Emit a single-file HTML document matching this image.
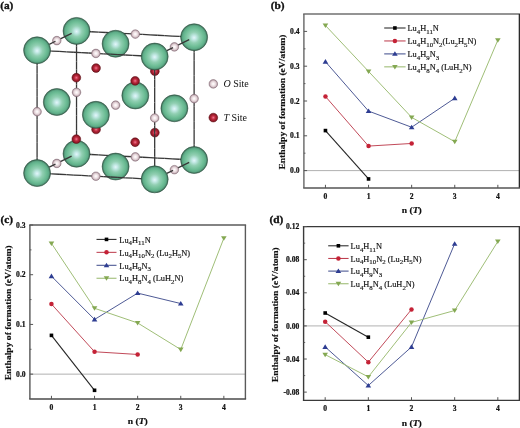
<!DOCTYPE html>
<html><head><meta charset="utf-8"><title>Lu-H-N structures</title>
<style>
html,body{margin:0;padding:0;background:#fff;}
body{width:520px;height:428px;overflow:hidden;}
svg{display:block;filter:blur(0.25px);}
</style></head><body>
<svg width="520" height="428" viewBox="0 0 520 428">
<rect width="520" height="428" fill="#fff"/>
<text x="0.2" y="9.4" font-size="11.3" font-weight="bold" stroke="#111" stroke-width="0.35" font-family="'Liberation Serif', 'Times New Roman', serif" fill="#111">(a)</text>
<g id="crystal">
<defs>
<radialGradient id="gLu" cx="0.5" cy="0.5" r="0.5" fx="0.5" fy="0.52">
<stop offset="0" stop-color="#e4f6fa"/>
<stop offset="0.15" stop-color="#c4e9e6"/>
<stop offset="0.4" stop-color="#91cfb2"/>
<stop offset="0.7" stop-color="#6dbd95"/>
<stop offset="0.85" stop-color="#5fad89"/>
<stop offset="0.93" stop-color="#4c8b6d"/>
<stop offset="1" stop-color="#325a48"/>
</radialGradient>
<radialGradient id="gO" cx="0.5" cy="0.5" r="0.5">
<stop offset="0" stop-color="#ffffff"/>
<stop offset="0.25" stop-color="#f8f0f2"/>
<stop offset="0.6" stop-color="#e4d4d8"/>
<stop offset="0.85" stop-color="#bea8b0"/>
<stop offset="1" stop-color="#8a7280"/>
</radialGradient>
<radialGradient id="gT" cx="0.5" cy="0.5" r="0.5">
<stop offset="0" stop-color="#f08098"/>
<stop offset="0.22" stop-color="#d84a62"/>
<stop offset="0.5" stop-color="#b42638"/>
<stop offset="0.78" stop-color="#961a2a"/>
<stop offset="0.92" stop-color="#7c1420"/>
<stop offset="1" stop-color="#580a12"/>
</radialGradient>
</defs>
<line x1="76.53" y1="146.06" x2="76.53" y2="153.74" stroke="#383838" stroke-width="1.3" stroke-linecap="butt"/>
<line x1="76.53" y1="153.74" x2="83.88" y2="154.13" stroke="#383838" stroke-width="1.3" stroke-linecap="butt"/>
<line x1="76.53" y1="138.39" x2="76.53" y2="146.06" stroke="#383838" stroke-width="1.3" stroke-linecap="butt"/>
<line x1="83.88" y1="154.13" x2="91.23" y2="154.52" stroke="#383838" stroke-width="1.3" stroke-linecap="butt"/>
<line x1="76.53" y1="38.62" x2="76.53" y2="46.29" stroke="#383838" stroke-width="1.3" stroke-linecap="butt"/>
<line x1="76.53" y1="30.94" x2="76.53" y2="38.62" stroke="#383838" stroke-width="1.3" stroke-linecap="butt"/>
<line x1="76.53" y1="30.94" x2="83.88" y2="31.33" stroke="#383838" stroke-width="1.3" stroke-linecap="butt"/>
<line x1="83.88" y1="31.33" x2="91.23" y2="31.73" stroke="#383838" stroke-width="1.3" stroke-linecap="butt"/>
<line x1="76.53" y1="130.71" x2="76.53" y2="138.39" stroke="#383838" stroke-width="1.3" stroke-linecap="butt"/>
<line x1="76.53" y1="123.04" x2="76.53" y2="130.71" stroke="#383838" stroke-width="1.3" stroke-linecap="butt"/>
<line x1="76.53" y1="115.36" x2="76.53" y2="123.04" stroke="#383838" stroke-width="1.3" stroke-linecap="butt"/>
<line x1="76.53" y1="107.69" x2="76.53" y2="115.36" stroke="#383838" stroke-width="1.3" stroke-linecap="butt"/>
<circle cx="76.53" cy="153.74" r="13.5" fill="url(#gLu)" stroke="#2f5543" stroke-width="0.55"/>
<line x1="91.23" y1="154.52" x2="98.58" y2="154.92" stroke="#383838" stroke-width="1.3" stroke-linecap="butt"/>
<line x1="76.53" y1="100.02" x2="76.53" y2="107.69" stroke="#383838" stroke-width="1.3" stroke-linecap="butt"/>
<line x1="56.80" y1="163.41" x2="71.59" y2="156.16" stroke="#383838" stroke-width="1.3" stroke-linecap="butt"/>
<line x1="76.53" y1="92.34" x2="76.53" y2="100.02" stroke="#383838" stroke-width="1.3" stroke-linecap="butt"/>
<line x1="98.58" y1="154.92" x2="105.92" y2="155.31" stroke="#383838" stroke-width="1.3" stroke-linecap="butt"/>
<line x1="76.53" y1="84.67" x2="76.53" y2="92.34" stroke="#383838" stroke-width="1.3" stroke-linecap="butt"/>
<line x1="76.53" y1="76.99" x2="76.53" y2="84.67" stroke="#383838" stroke-width="1.3" stroke-linecap="butt"/>
<line x1="105.92" y1="155.31" x2="113.28" y2="155.70" stroke="#383838" stroke-width="1.3" stroke-linecap="butt"/>
<line x1="179.43" y1="159.24" x2="186.77" y2="159.63" stroke="#383838" stroke-width="1.3" stroke-linecap="butt"/>
<line x1="76.53" y1="69.32" x2="76.53" y2="76.99" stroke="#383838" stroke-width="1.3" stroke-linecap="butt"/>
<line x1="76.53" y1="61.64" x2="76.53" y2="69.32" stroke="#383838" stroke-width="1.3" stroke-linecap="butt"/>
<line x1="113.28" y1="155.70" x2="120.62" y2="156.10" stroke="#383838" stroke-width="1.3" stroke-linecap="butt"/>
<line x1="186.77" y1="159.63" x2="194.12" y2="160.02" stroke="#383838" stroke-width="1.3" stroke-linecap="butt"/>
<line x1="76.53" y1="53.97" x2="76.53" y2="61.64" stroke="#383838" stroke-width="1.3" stroke-linecap="butt"/>
<line x1="76.53" y1="46.29" x2="76.53" y2="53.97" stroke="#383838" stroke-width="1.3" stroke-linecap="butt"/>
<circle cx="76.53" cy="92.34" r="4.3" fill="url(#gO)" stroke="#8a7078" stroke-width="0.5"/>
<line x1="194.12" y1="152.35" x2="194.12" y2="160.02" stroke="#383838" stroke-width="1.3" stroke-linecap="butt"/>
<line x1="120.62" y1="156.10" x2="127.98" y2="156.49" stroke="#383838" stroke-width="1.3" stroke-linecap="butt"/>
<line x1="194.12" y1="144.67" x2="194.12" y2="152.35" stroke="#383838" stroke-width="1.3" stroke-linecap="butt"/>
<line x1="127.98" y1="156.49" x2="135.32" y2="156.88" stroke="#383838" stroke-width="1.3" stroke-linecap="butt"/>
<line x1="135.32" y1="156.88" x2="142.68" y2="157.27" stroke="#383838" stroke-width="1.3" stroke-linecap="butt"/>
<line x1="142.68" y1="157.27" x2="150.03" y2="157.67" stroke="#383838" stroke-width="1.3" stroke-linecap="butt"/>
<circle cx="76.53" cy="30.94" r="13.5" fill="url(#gLu)" stroke="#2f5543" stroke-width="0.55"/>
<line x1="91.23" y1="31.73" x2="98.58" y2="32.12" stroke="#383838" stroke-width="1.3" stroke-linecap="butt"/>
<line x1="56.80" y1="40.61" x2="71.59" y2="33.36" stroke="#383838" stroke-width="1.3" stroke-linecap="butt"/>
<line x1="150.03" y1="157.67" x2="157.38" y2="158.06" stroke="#383838" stroke-width="1.3" stroke-linecap="butt"/>
<circle cx="135.32" cy="156.88" r="4.3" fill="url(#gO)" stroke="#8a7078" stroke-width="0.5"/>
<line x1="98.58" y1="32.12" x2="105.92" y2="32.51" stroke="#383838" stroke-width="1.3" stroke-linecap="butt"/>
<line x1="157.38" y1="158.06" x2="164.72" y2="158.45" stroke="#383838" stroke-width="1.3" stroke-linecap="butt"/>
<line x1="105.92" y1="32.51" x2="113.28" y2="32.90" stroke="#383838" stroke-width="1.3" stroke-linecap="butt"/>
<line x1="179.43" y1="36.44" x2="186.77" y2="36.83" stroke="#383838" stroke-width="1.3" stroke-linecap="butt"/>
<line x1="164.72" y1="158.45" x2="172.07" y2="158.84" stroke="#383838" stroke-width="1.3" stroke-linecap="butt"/>
<line x1="194.12" y1="44.90" x2="194.12" y2="52.57" stroke="#383838" stroke-width="1.3" stroke-linecap="butt"/>
<line x1="113.28" y1="32.90" x2="120.62" y2="33.30" stroke="#383838" stroke-width="1.3" stroke-linecap="butt"/>
<line x1="186.77" y1="36.83" x2="194.12" y2="37.22" stroke="#383838" stroke-width="1.3" stroke-linecap="butt"/>
<line x1="194.12" y1="37.22" x2="194.12" y2="44.90" stroke="#383838" stroke-width="1.3" stroke-linecap="butt"/>
<line x1="172.07" y1="158.84" x2="179.43" y2="159.24" stroke="#383838" stroke-width="1.3" stroke-linecap="butt"/>
<line x1="120.62" y1="33.30" x2="127.98" y2="33.69" stroke="#383838" stroke-width="1.3" stroke-linecap="butt"/>
<circle cx="135.32" cy="95.48" r="13.5" fill="url(#gLu)" stroke="#2f5543" stroke-width="0.55"/>
<line x1="127.98" y1="33.69" x2="135.32" y2="34.08" stroke="#383838" stroke-width="1.3" stroke-linecap="butt"/>
<line x1="135.32" y1="34.08" x2="142.68" y2="34.47" stroke="#383838" stroke-width="1.3" stroke-linecap="butt"/>
<line x1="142.68" y1="34.47" x2="150.03" y2="34.87" stroke="#383838" stroke-width="1.3" stroke-linecap="butt"/>
<line x1="194.12" y1="137.00" x2="194.12" y2="144.67" stroke="#383838" stroke-width="1.3" stroke-linecap="butt"/>
<line x1="194.12" y1="129.32" x2="194.12" y2="137.00" stroke="#383838" stroke-width="1.3" stroke-linecap="butt"/>
<line x1="150.03" y1="34.87" x2="157.38" y2="35.26" stroke="#383838" stroke-width="1.3" stroke-linecap="butt"/>
<circle cx="135.32" cy="34.08" r="4.3" fill="url(#gO)" stroke="#8a7078" stroke-width="0.5"/>
<line x1="194.12" y1="121.64" x2="194.12" y2="129.32" stroke="#383838" stroke-width="1.3" stroke-linecap="butt"/>
<line x1="194.12" y1="113.97" x2="194.12" y2="121.64" stroke="#383838" stroke-width="1.3" stroke-linecap="butt"/>
<circle cx="194.12" cy="160.02" r="13.5" fill="url(#gLu)" stroke="#2f5543" stroke-width="0.55"/>
<line x1="157.38" y1="35.26" x2="164.72" y2="35.65" stroke="#383838" stroke-width="1.3" stroke-linecap="butt"/>
<line x1="194.12" y1="106.30" x2="194.12" y2="113.97" stroke="#383838" stroke-width="1.3" stroke-linecap="butt"/>
<line x1="174.40" y1="169.69" x2="189.19" y2="162.44" stroke="#383838" stroke-width="1.3" stroke-linecap="butt"/>
<line x1="194.12" y1="98.62" x2="194.12" y2="106.30" stroke="#383838" stroke-width="1.3" stroke-linecap="butt"/>
<line x1="164.72" y1="35.65" x2="172.07" y2="36.04" stroke="#383838" stroke-width="1.3" stroke-linecap="butt"/>
<line x1="194.12" y1="90.95" x2="194.12" y2="98.62" stroke="#383838" stroke-width="1.3" stroke-linecap="butt"/>
<circle cx="96.06" cy="129.44" r="4.4" fill="url(#gT)" stroke="#6a1018" stroke-width="0.5"/>
<line x1="194.12" y1="83.27" x2="194.12" y2="90.95" stroke="#383838" stroke-width="1.3" stroke-linecap="butt"/>
<line x1="172.07" y1="36.04" x2="179.43" y2="36.44" stroke="#383838" stroke-width="1.3" stroke-linecap="butt"/>
<line x1="194.12" y1="75.60" x2="194.12" y2="83.27" stroke="#383838" stroke-width="1.3" stroke-linecap="butt"/>
<line x1="194.12" y1="67.92" x2="194.12" y2="75.60" stroke="#383838" stroke-width="1.3" stroke-linecap="butt"/>
<line x1="194.12" y1="60.25" x2="194.12" y2="67.92" stroke="#383838" stroke-width="1.3" stroke-linecap="butt"/>
<line x1="194.12" y1="52.57" x2="194.12" y2="60.25" stroke="#383838" stroke-width="1.3" stroke-linecap="butt"/>
<circle cx="194.12" cy="98.62" r="4.3" fill="url(#gO)" stroke="#8a7078" stroke-width="0.5"/>
<circle cx="96.06" cy="68.04" r="4.4" fill="url(#gT)" stroke="#6a1018" stroke-width="0.5"/>
<circle cx="194.12" cy="37.22" r="13.5" fill="url(#gLu)" stroke="#2f5543" stroke-width="0.55"/>
<circle cx="56.80" cy="163.41" r="4.3" fill="url(#gO)" stroke="#8a7078" stroke-width="0.5"/>
<line x1="174.40" y1="46.89" x2="189.19" y2="39.64" stroke="#383838" stroke-width="1.3" stroke-linecap="butt"/>
<line x1="49.20" y1="167.13" x2="55.45" y2="164.07" stroke="#383838" stroke-width="1.3" stroke-linecap="butt"/>
<circle cx="154.86" cy="132.58" r="4.4" fill="url(#gT)" stroke="#6a1018" stroke-width="0.5"/>
<circle cx="56.80" cy="102.00" r="13.5" fill="url(#gLu)" stroke="#2f5543" stroke-width="0.55"/>
<circle cx="154.86" cy="71.18" r="4.4" fill="url(#gT)" stroke="#6a1018" stroke-width="0.5"/>
<circle cx="56.80" cy="40.61" r="4.3" fill="url(#gO)" stroke="#8a7078" stroke-width="0.5"/>
<line x1="49.20" y1="44.33" x2="55.45" y2="41.27" stroke="#383838" stroke-width="1.3" stroke-linecap="butt"/>
<circle cx="115.60" cy="166.55" r="13.5" fill="url(#gLu)" stroke="#2f5543" stroke-width="0.55"/>
<line x1="37.08" y1="165.40" x2="37.08" y2="173.07" stroke="#383838" stroke-width="1.3" stroke-linecap="butt"/>
<line x1="37.08" y1="173.07" x2="44.43" y2="173.46" stroke="#383838" stroke-width="1.3" stroke-linecap="butt"/>
<line x1="37.08" y1="157.72" x2="37.08" y2="165.40" stroke="#383838" stroke-width="1.3" stroke-linecap="butt"/>
<circle cx="115.60" cy="105.15" r="4.3" fill="url(#gO)" stroke="#8a7078" stroke-width="0.5"/>
<line x1="44.43" y1="173.46" x2="51.78" y2="173.85" stroke="#383838" stroke-width="1.3" stroke-linecap="butt"/>
<circle cx="115.60" cy="43.75" r="13.5" fill="url(#gLu)" stroke="#2f5543" stroke-width="0.55"/>
<circle cx="174.40" cy="169.69" r="4.3" fill="url(#gO)" stroke="#8a7078" stroke-width="0.5"/>
<line x1="166.80" y1="173.41" x2="173.05" y2="170.35" stroke="#383838" stroke-width="1.3" stroke-linecap="butt"/>
<line x1="37.08" y1="57.95" x2="37.08" y2="65.62" stroke="#383838" stroke-width="1.3" stroke-linecap="butt"/>
<circle cx="76.34" cy="139.11" r="4.4" fill="url(#gT)" stroke="#6a1018" stroke-width="0.5"/>
<line x1="37.08" y1="50.27" x2="37.08" y2="57.95" stroke="#383838" stroke-width="1.3" stroke-linecap="butt"/>
<line x1="37.08" y1="50.27" x2="44.43" y2="50.66" stroke="#383838" stroke-width="1.3" stroke-linecap="butt"/>
<circle cx="174.40" cy="108.28" r="13.5" fill="url(#gLu)" stroke="#2f5543" stroke-width="0.55"/>
<line x1="44.43" y1="50.66" x2="51.78" y2="51.05" stroke="#383838" stroke-width="1.3" stroke-linecap="butt"/>
<circle cx="76.34" cy="77.71" r="4.4" fill="url(#gT)" stroke="#6a1018" stroke-width="0.5"/>
<line x1="37.08" y1="150.04" x2="37.08" y2="157.72" stroke="#383838" stroke-width="1.3" stroke-linecap="butt"/>
<line x1="37.08" y1="142.37" x2="37.08" y2="150.04" stroke="#383838" stroke-width="1.3" stroke-linecap="butt"/>
<line x1="37.08" y1="134.69" x2="37.08" y2="142.37" stroke="#383838" stroke-width="1.3" stroke-linecap="butt"/>
<circle cx="174.40" cy="46.89" r="4.3" fill="url(#gO)" stroke="#8a7078" stroke-width="0.5"/>
<line x1="37.08" y1="127.02" x2="37.08" y2="134.69" stroke="#383838" stroke-width="1.3" stroke-linecap="butt"/>
<circle cx="37.08" cy="173.07" r="13.5" fill="url(#gLu)" stroke="#2f5543" stroke-width="0.55"/>
<line x1="51.78" y1="173.85" x2="59.12" y2="174.25" stroke="#383838" stroke-width="1.3" stroke-linecap="butt"/>
<line x1="166.80" y1="50.61" x2="173.05" y2="47.55" stroke="#383838" stroke-width="1.3" stroke-linecap="butt"/>
<line x1="37.08" y1="119.34" x2="37.08" y2="127.02" stroke="#383838" stroke-width="1.3" stroke-linecap="butt"/>
<line x1="37.08" y1="111.67" x2="37.08" y2="119.34" stroke="#383838" stroke-width="1.3" stroke-linecap="butt"/>
<line x1="59.12" y1="174.25" x2="66.47" y2="174.64" stroke="#383838" stroke-width="1.3" stroke-linecap="butt"/>
<line x1="37.08" y1="104.00" x2="37.08" y2="111.67" stroke="#383838" stroke-width="1.3" stroke-linecap="butt"/>
<line x1="37.08" y1="96.32" x2="37.08" y2="104.00" stroke="#383838" stroke-width="1.3" stroke-linecap="butt"/>
<line x1="139.97" y1="178.56" x2="147.32" y2="178.96" stroke="#383838" stroke-width="1.3" stroke-linecap="butt"/>
<line x1="66.47" y1="174.64" x2="73.83" y2="175.03" stroke="#383838" stroke-width="1.3" stroke-linecap="butt"/>
<circle cx="135.14" cy="142.25" r="4.4" fill="url(#gT)" stroke="#6a1018" stroke-width="0.5"/>
<line x1="37.08" y1="88.65" x2="37.08" y2="96.32" stroke="#383838" stroke-width="1.3" stroke-linecap="butt"/>
<line x1="37.08" y1="80.97" x2="37.08" y2="88.65" stroke="#383838" stroke-width="1.3" stroke-linecap="butt"/>
<line x1="147.32" y1="178.96" x2="154.68" y2="179.35" stroke="#383838" stroke-width="1.3" stroke-linecap="butt"/>
<line x1="73.83" y1="175.03" x2="81.17" y2="175.43" stroke="#383838" stroke-width="1.3" stroke-linecap="butt"/>
<line x1="37.08" y1="73.30" x2="37.08" y2="80.97" stroke="#383838" stroke-width="1.3" stroke-linecap="butt"/>
<line x1="37.08" y1="65.62" x2="37.08" y2="73.30" stroke="#383838" stroke-width="1.3" stroke-linecap="butt"/>
<circle cx="37.08" cy="111.67" r="4.3" fill="url(#gO)" stroke="#8a7078" stroke-width="0.5"/>
<line x1="154.68" y1="171.68" x2="154.68" y2="179.35" stroke="#383838" stroke-width="1.3" stroke-linecap="butt"/>
<line x1="81.17" y1="175.43" x2="88.53" y2="175.82" stroke="#383838" stroke-width="1.3" stroke-linecap="butt"/>
<line x1="154.68" y1="164.00" x2="154.68" y2="171.68" stroke="#383838" stroke-width="1.3" stroke-linecap="butt"/>
<line x1="88.53" y1="175.82" x2="95.88" y2="176.21" stroke="#383838" stroke-width="1.3" stroke-linecap="butt"/>
<circle cx="135.14" cy="80.85" r="4.4" fill="url(#gT)" stroke="#6a1018" stroke-width="0.5"/>
<line x1="95.88" y1="176.21" x2="103.22" y2="176.60" stroke="#383838" stroke-width="1.3" stroke-linecap="butt"/>
<line x1="103.22" y1="176.60" x2="110.58" y2="177.00" stroke="#383838" stroke-width="1.3" stroke-linecap="butt"/>
<circle cx="37.08" cy="50.27" r="13.5" fill="url(#gLu)" stroke="#2f5543" stroke-width="0.55"/>
<line x1="51.78" y1="51.05" x2="59.12" y2="51.45" stroke="#383838" stroke-width="1.3" stroke-linecap="butt"/>
<line x1="110.58" y1="177.00" x2="117.92" y2="177.39" stroke="#383838" stroke-width="1.3" stroke-linecap="butt"/>
<circle cx="95.88" cy="176.21" r="4.3" fill="url(#gO)" stroke="#8a7078" stroke-width="0.5"/>
<line x1="59.12" y1="51.45" x2="66.47" y2="51.84" stroke="#383838" stroke-width="1.3" stroke-linecap="butt"/>
<line x1="117.92" y1="177.39" x2="125.27" y2="177.78" stroke="#383838" stroke-width="1.3" stroke-linecap="butt"/>
<line x1="139.97" y1="55.77" x2="147.32" y2="56.16" stroke="#383838" stroke-width="1.3" stroke-linecap="butt"/>
<line x1="66.47" y1="51.84" x2="73.83" y2="52.23" stroke="#383838" stroke-width="1.3" stroke-linecap="butt"/>
<line x1="125.27" y1="177.78" x2="132.62" y2="178.17" stroke="#383838" stroke-width="1.3" stroke-linecap="butt"/>
<line x1="154.68" y1="64.23" x2="154.68" y2="71.90" stroke="#383838" stroke-width="1.3" stroke-linecap="butt"/>
<line x1="147.32" y1="56.16" x2="154.68" y2="56.55" stroke="#383838" stroke-width="1.3" stroke-linecap="butt"/>
<line x1="73.83" y1="52.23" x2="81.17" y2="52.62" stroke="#383838" stroke-width="1.3" stroke-linecap="butt"/>
<line x1="154.68" y1="56.55" x2="154.68" y2="64.23" stroke="#383838" stroke-width="1.3" stroke-linecap="butt"/>
<line x1="132.62" y1="178.17" x2="139.97" y2="178.56" stroke="#383838" stroke-width="1.3" stroke-linecap="butt"/>
<line x1="81.17" y1="52.62" x2="88.53" y2="53.02" stroke="#383838" stroke-width="1.3" stroke-linecap="butt"/>
<circle cx="95.88" cy="114.81" r="13.5" fill="url(#gLu)" stroke="#2f5543" stroke-width="0.55"/>
<line x1="88.53" y1="53.02" x2="95.88" y2="53.41" stroke="#383838" stroke-width="1.3" stroke-linecap="butt"/>
<line x1="95.88" y1="53.41" x2="103.22" y2="53.80" stroke="#383838" stroke-width="1.3" stroke-linecap="butt"/>
<line x1="103.22" y1="53.80" x2="110.58" y2="54.20" stroke="#383838" stroke-width="1.3" stroke-linecap="butt"/>
<line x1="154.68" y1="156.32" x2="154.68" y2="164.00" stroke="#383838" stroke-width="1.3" stroke-linecap="butt"/>
<line x1="154.68" y1="148.65" x2="154.68" y2="156.32" stroke="#383838" stroke-width="1.3" stroke-linecap="butt"/>
<line x1="110.58" y1="54.20" x2="117.92" y2="54.59" stroke="#383838" stroke-width="1.3" stroke-linecap="butt"/>
<circle cx="95.88" cy="53.41" r="4.3" fill="url(#gO)" stroke="#8a7078" stroke-width="0.5"/>
<line x1="154.68" y1="140.97" x2="154.68" y2="148.65" stroke="#383838" stroke-width="1.3" stroke-linecap="butt"/>
<line x1="154.68" y1="133.30" x2="154.68" y2="140.97" stroke="#383838" stroke-width="1.3" stroke-linecap="butt"/>
<circle cx="154.68" cy="179.35" r="13.5" fill="url(#gLu)" stroke="#2f5543" stroke-width="0.55"/>
<line x1="117.92" y1="54.59" x2="125.27" y2="54.98" stroke="#383838" stroke-width="1.3" stroke-linecap="butt"/>
<line x1="154.68" y1="125.62" x2="154.68" y2="133.30" stroke="#383838" stroke-width="1.3" stroke-linecap="butt"/>
<line x1="154.68" y1="117.95" x2="154.68" y2="125.62" stroke="#383838" stroke-width="1.3" stroke-linecap="butt"/>
<line x1="125.27" y1="54.98" x2="132.62" y2="55.37" stroke="#383838" stroke-width="1.3" stroke-linecap="butt"/>
<line x1="154.68" y1="110.28" x2="154.68" y2="117.95" stroke="#383838" stroke-width="1.3" stroke-linecap="butt"/>
<line x1="154.68" y1="102.60" x2="154.68" y2="110.28" stroke="#383838" stroke-width="1.3" stroke-linecap="butt"/>
<line x1="132.62" y1="55.37" x2="139.97" y2="55.77" stroke="#383838" stroke-width="1.3" stroke-linecap="butt"/>
<line x1="154.68" y1="94.93" x2="154.68" y2="102.60" stroke="#383838" stroke-width="1.3" stroke-linecap="butt"/>
<line x1="154.68" y1="87.25" x2="154.68" y2="94.93" stroke="#383838" stroke-width="1.3" stroke-linecap="butt"/>
<line x1="154.68" y1="79.58" x2="154.68" y2="87.25" stroke="#383838" stroke-width="1.3" stroke-linecap="butt"/>
<line x1="154.68" y1="71.90" x2="154.68" y2="79.58" stroke="#383838" stroke-width="1.3" stroke-linecap="butt"/>
<circle cx="154.68" cy="117.95" r="4.3" fill="url(#gO)" stroke="#8a7078" stroke-width="0.5"/>
<circle cx="154.68" cy="56.55" r="13.5" fill="url(#gLu)" stroke="#2f5543" stroke-width="0.55"/>
<circle cx="213.3" cy="83.9" r="4.3" fill="url(#gO)" stroke="#8a7078" stroke-width="0.5"/>
<circle cx="213.3" cy="117.6" r="4.4" fill="url(#gT)" stroke="#6a1018" stroke-width="0.5"/>
<text x="223.4" y="87.3" font-size="10" font-family="'Liberation Serif', 'Times New Roman', serif" fill="#111"><tspan font-style="italic">O</tspan> Site</text>
<text x="223.4" y="121.0" font-size="10" font-family="'Liberation Serif', 'Times New Roman', serif" fill="#111"><tspan font-style="italic">T</tspan> Site</text>
</g>
<g id="pb">
<line x1="303.90" y1="170.60" x2="519.40" y2="170.60" stroke="#a8a8a8" stroke-width="0.9"/>
<polyline points="325.45,130.58 368.55,178.95" fill="none" stroke="#262626" stroke-width="1.1"/>
<polyline points="325.45,96.48 368.55,146.07 411.65,143.46" fill="none" stroke="#be4050" stroke-width="0.95"/>
<polyline points="325.45,61.68 368.55,111.09 411.65,127.24 454.75,98.22" fill="none" stroke="#44518f" stroke-width="0.95"/>
<polyline points="325.45,25.48 368.55,71.42 411.65,117.36 454.75,141.72 497.85,40.10" fill="none" stroke="#9aba70" stroke-width="0.95"/>
<rect x="323.65" y="128.78" width="3.6" height="3.6" fill="#000000"/>
<rect x="366.75" y="177.15" width="3.6" height="3.6" fill="#000000"/>
<circle cx="325.45" cy="96.48" r="2.25" fill="#c42236"/>
<circle cx="368.55" cy="146.07" r="2.25" fill="#c42236"/>
<circle cx="411.65" cy="143.46" r="2.25" fill="#c42236"/>
<polygon points="325.45,59.08 328.25,63.63 322.65,63.63" fill="#2e3d92"/>
<polygon points="368.55,108.49 371.35,113.04 365.75,113.04" fill="#2e3d92"/>
<polygon points="411.65,124.64 414.45,129.19 408.85,129.19" fill="#2e3d92"/>
<polygon points="454.75,95.62 457.55,100.17 451.95,100.17" fill="#2e3d92"/>
<polygon points="325.45,28.08 328.25,23.53 322.65,23.53" fill="#84a852"/>
<polygon points="368.55,74.02 371.35,69.47 365.75,69.47" fill="#84a852"/>
<polygon points="411.65,119.96 414.45,115.41 408.85,115.41" fill="#84a852"/>
<polygon points="454.75,144.32 457.55,139.77 451.95,139.77" fill="#84a852"/>
<polygon points="497.85,42.70 500.65,38.15 495.05,38.15" fill="#84a852"/>
<line x1="303.20" y1="14.00" x2="520.10" y2="14.00" stroke="#707070" stroke-width="1.4"/>
<line x1="519.40" y1="14.00" x2="519.40" y2="188.00" stroke="#2a2a2a" stroke-width="1.4"/>
<line x1="303.20" y1="188.00" x2="520.10" y2="188.00" stroke="#555" stroke-width="1.4"/>
<line x1="303.90" y1="14.00" x2="303.90" y2="188.00" stroke="#666" stroke-width="1.4"/>
<line x1="325.45" y1="188.00" x2="325.45" y2="184.80" stroke="#555" stroke-width="1"/>
<text x="325.45" y="198.80" font-size="7.6" font-weight="bold" text-anchor="middle" font-family="'Liberation Serif', 'Times New Roman', serif" fill="#111" stroke="#111" stroke-width="0.22">0</text>
<line x1="368.55" y1="188.00" x2="368.55" y2="184.80" stroke="#555" stroke-width="1"/>
<text x="368.55" y="198.80" font-size="7.6" font-weight="bold" text-anchor="middle" font-family="'Liberation Serif', 'Times New Roman', serif" fill="#111" stroke="#111" stroke-width="0.22">1</text>
<line x1="411.65" y1="188.00" x2="411.65" y2="184.80" stroke="#555" stroke-width="1"/>
<text x="411.65" y="198.80" font-size="7.6" font-weight="bold" text-anchor="middle" font-family="'Liberation Serif', 'Times New Roman', serif" fill="#111" stroke="#111" stroke-width="0.22">2</text>
<line x1="454.75" y1="188.00" x2="454.75" y2="184.80" stroke="#555" stroke-width="1"/>
<text x="454.75" y="198.80" font-size="7.6" font-weight="bold" text-anchor="middle" font-family="'Liberation Serif', 'Times New Roman', serif" fill="#111" stroke="#111" stroke-width="0.22">3</text>
<line x1="497.85" y1="188.00" x2="497.85" y2="184.80" stroke="#555" stroke-width="1"/>
<text x="497.85" y="198.80" font-size="7.6" font-weight="bold" text-anchor="middle" font-family="'Liberation Serif', 'Times New Roman', serif" fill="#111" stroke="#111" stroke-width="0.22">4</text>
<line x1="303.90" y1="170.60" x2="307.10" y2="170.60" stroke="#555" stroke-width="1"/>
<text x="299.60" y="173.20" font-size="7.6" font-weight="bold" text-anchor="end" font-family="'Liberation Serif', 'Times New Roman', serif" fill="#111" stroke="#111" stroke-width="0.22">0.0</text>
<line x1="303.90" y1="135.80" x2="307.10" y2="135.80" stroke="#555" stroke-width="1"/>
<text x="299.60" y="138.40" font-size="7.6" font-weight="bold" text-anchor="end" font-family="'Liberation Serif', 'Times New Roman', serif" fill="#111" stroke="#111" stroke-width="0.22">0.1</text>
<line x1="303.90" y1="101.00" x2="307.10" y2="101.00" stroke="#555" stroke-width="1"/>
<text x="299.60" y="103.60" font-size="7.6" font-weight="bold" text-anchor="end" font-family="'Liberation Serif', 'Times New Roman', serif" fill="#111" stroke="#111" stroke-width="0.22">0.2</text>
<line x1="303.90" y1="66.20" x2="307.10" y2="66.20" stroke="#555" stroke-width="1"/>
<text x="299.60" y="68.80" font-size="7.6" font-weight="bold" text-anchor="end" font-family="'Liberation Serif', 'Times New Roman', serif" fill="#111" stroke="#111" stroke-width="0.22">0.3</text>
<line x1="303.90" y1="31.40" x2="307.10" y2="31.40" stroke="#555" stroke-width="1"/>
<text x="299.60" y="34.00" font-size="7.6" font-weight="bold" text-anchor="end" font-family="'Liberation Serif', 'Times New Roman', serif" fill="#111" stroke="#111" stroke-width="0.22">0.4</text>
<line x1="303.90" y1="153.20" x2="305.50" y2="153.20" stroke="#555" stroke-width="0.9"/>
<line x1="303.90" y1="118.40" x2="305.50" y2="118.40" stroke="#555" stroke-width="0.9"/>
<line x1="303.90" y1="83.60" x2="305.50" y2="83.60" stroke="#555" stroke-width="0.9"/>
<line x1="303.90" y1="48.80" x2="305.50" y2="48.80" stroke="#555" stroke-width="0.9"/>
<text transform="translate(285.20,102.10) rotate(-90)" font-size="9.0" font-weight="bold" text-anchor="middle" textLength="135" lengthAdjust="spacingAndGlyphs" font-family="'Liberation Serif', 'Times New Roman', serif" fill="#111" stroke="#111" stroke-width="0.15">Enthalpy of formation (eV/atom)</text>
<text transform="translate(411.70,213.10) scale(1.09,1)" font-size="8.8" font-weight="bold" text-anchor="middle" font-family="'Liberation Serif', 'Times New Roman', serif" fill="#111" stroke="#111" stroke-width="0.2">n (<tspan font-style="italic">T</tspan>)</text>
<line x1="384.20" y1="28.00" x2="405.60" y2="28.00" stroke="#262626" stroke-width="1.05"/>
<rect x="393.10" y="26.20" width="3.6" height="3.6" fill="#000000"/>
<text x="407.50" y="31.20" font-size="8.35" font-family="'Liberation Serif', 'Times New Roman', serif" fill="#111" stroke="#111" stroke-width="0.16"><tspan>Lu</tspan><tspan font-size="6.85" dy="2.60">4</tspan><tspan dy="-2.60">H</tspan><tspan font-size="6.85" dy="2.60">11</tspan><tspan dy="-2.60">N</tspan></text>
<line x1="384.20" y1="40.95" x2="405.60" y2="40.95" stroke="#be4050" stroke-width="1.05"/>
<circle cx="394.90" cy="40.95" r="2.25" fill="#c42236"/>
<text x="407.50" y="44.15" font-size="8.35" font-family="'Liberation Serif', 'Times New Roman', serif" fill="#111" stroke="#111" stroke-width="0.16"><tspan>Lu</tspan><tspan font-size="6.85" dy="2.60">4</tspan><tspan dy="-2.60">H</tspan><tspan font-size="6.85" dy="2.60">10</tspan><tspan dy="-2.60">N</tspan><tspan font-size="6.85" dy="2.60">2</tspan><tspan dy="-2.60">(Lu</tspan><tspan font-size="6.85" dy="2.60">2</tspan><tspan dy="-2.60">H</tspan><tspan font-size="6.85" dy="2.60">5</tspan><tspan dy="-2.60">N)</tspan></text>
<line x1="384.20" y1="53.90" x2="405.60" y2="53.90" stroke="#44518f" stroke-width="1.05"/>
<polygon points="394.90,51.30 397.70,55.85 392.10,55.85" fill="#2e3d92"/>
<text x="407.50" y="57.10" font-size="8.35" font-family="'Liberation Serif', 'Times New Roman', serif" fill="#111" stroke="#111" stroke-width="0.16"><tspan>Lu</tspan><tspan font-size="6.85" dy="2.60">4</tspan><tspan dy="-2.60">H</tspan><tspan font-size="6.85" dy="2.60">9</tspan><tspan dy="-2.60">N</tspan><tspan font-size="6.85" dy="2.60">3</tspan></text>
<line x1="384.20" y1="66.85" x2="405.60" y2="66.85" stroke="#9aba70" stroke-width="1.05"/>
<polygon points="394.90,69.45 397.70,64.90 392.10,64.90" fill="#84a852"/>
<text x="407.50" y="70.05" font-size="8.35" font-family="'Liberation Serif', 'Times New Roman', serif" fill="#111" stroke="#111" stroke-width="0.16"><tspan>Lu</tspan><tspan font-size="6.85" dy="2.60">4</tspan><tspan dy="-2.60">H</tspan><tspan font-size="6.85" dy="2.60">8</tspan><tspan dy="-2.60">N</tspan><tspan font-size="6.85" dy="2.60">4</tspan><tspan dy="-2.60">&#160;(LuH</tspan><tspan font-size="6.85" dy="2.60">2</tspan><tspan dy="-2.60">N)</tspan></text>
<text x="270.80" y="9.40" font-size="11.3" font-weight="bold" font-family="'Liberation Serif', 'Times New Roman', serif" fill="#111" stroke="#111" stroke-width="0.35">(b)</text>
</g>
<g id="pc">
<line x1="29.90" y1="374.14" x2="245.40" y2="374.14" stroke="#a8a8a8" stroke-width="0.9"/>
<polyline points="51.45,335.37 94.55,390.30" fill="none" stroke="#262626" stroke-width="1.1"/>
<polyline points="51.45,304.05 94.55,351.77 137.65,354.46" fill="none" stroke="#be4050" stroke-width="0.95"/>
<polyline points="51.45,276.21 94.55,319.46 137.65,293.11 180.75,303.55" fill="none" stroke="#44518f" stroke-width="0.95"/>
<polyline points="51.45,243.39 94.55,308.27 137.65,322.94 180.75,349.53 223.85,238.17" fill="none" stroke="#9aba70" stroke-width="0.95"/>
<rect x="49.65" y="333.57" width="3.6" height="3.6" fill="#000000"/>
<rect x="92.75" y="388.50" width="3.6" height="3.6" fill="#000000"/>
<circle cx="51.45" cy="304.05" r="2.25" fill="#c42236"/>
<circle cx="94.55" cy="351.77" r="2.25" fill="#c42236"/>
<circle cx="137.65" cy="354.46" r="2.25" fill="#c42236"/>
<polygon points="51.45,273.61 54.25,278.16 48.65,278.16" fill="#2e3d92"/>
<polygon points="94.55,316.86 97.35,321.41 91.75,321.41" fill="#2e3d92"/>
<polygon points="137.65,290.51 140.45,295.06 134.85,295.06" fill="#2e3d92"/>
<polygon points="180.75,300.95 183.55,305.50 177.95,305.50" fill="#2e3d92"/>
<polygon points="51.45,245.99 54.25,241.44 48.65,241.44" fill="#84a852"/>
<polygon points="94.55,310.87 97.35,306.32 91.75,306.32" fill="#84a852"/>
<polygon points="137.65,325.54 140.45,320.99 134.85,320.99" fill="#84a852"/>
<polygon points="180.75,352.13 183.55,347.58 177.95,347.58" fill="#84a852"/>
<polygon points="223.85,240.77 226.65,236.22 221.05,236.22" fill="#84a852"/>
<line x1="29.20" y1="225.00" x2="246.10" y2="225.00" stroke="#5a5a5a" stroke-width="1.4"/>
<line x1="245.40" y1="225.00" x2="245.40" y2="399.00" stroke="#5a5a5a" stroke-width="1.4"/>
<line x1="29.20" y1="399.00" x2="246.10" y2="399.00" stroke="#4a4a4a" stroke-width="1.4"/>
<line x1="29.90" y1="225.00" x2="29.90" y2="399.00" stroke="#555" stroke-width="1.4"/>
<line x1="51.45" y1="399.00" x2="51.45" y2="395.80" stroke="#555" stroke-width="1"/>
<text x="51.45" y="409.80" font-size="7.6" font-weight="bold" text-anchor="middle" font-family="'Liberation Serif', 'Times New Roman', serif" fill="#111" stroke="#111" stroke-width="0.22">0</text>
<line x1="94.55" y1="399.00" x2="94.55" y2="395.80" stroke="#555" stroke-width="1"/>
<text x="94.55" y="409.80" font-size="7.6" font-weight="bold" text-anchor="middle" font-family="'Liberation Serif', 'Times New Roman', serif" fill="#111" stroke="#111" stroke-width="0.22">1</text>
<line x1="137.65" y1="399.00" x2="137.65" y2="395.80" stroke="#555" stroke-width="1"/>
<text x="137.65" y="409.80" font-size="7.6" font-weight="bold" text-anchor="middle" font-family="'Liberation Serif', 'Times New Roman', serif" fill="#111" stroke="#111" stroke-width="0.22">2</text>
<line x1="180.75" y1="399.00" x2="180.75" y2="395.80" stroke="#555" stroke-width="1"/>
<text x="180.75" y="409.80" font-size="7.6" font-weight="bold" text-anchor="middle" font-family="'Liberation Serif', 'Times New Roman', serif" fill="#111" stroke="#111" stroke-width="0.22">3</text>
<line x1="223.85" y1="399.00" x2="223.85" y2="395.80" stroke="#555" stroke-width="1"/>
<text x="223.85" y="409.80" font-size="7.6" font-weight="bold" text-anchor="middle" font-family="'Liberation Serif', 'Times New Roman', serif" fill="#111" stroke="#111" stroke-width="0.22">4</text>
<line x1="29.90" y1="374.14" x2="33.10" y2="374.14" stroke="#555" stroke-width="1"/>
<text x="25.60" y="376.74" font-size="7.6" font-weight="bold" text-anchor="end" font-family="'Liberation Serif', 'Times New Roman', serif" fill="#111" stroke="#111" stroke-width="0.22">0.0</text>
<line x1="29.90" y1="324.43" x2="33.10" y2="324.43" stroke="#555" stroke-width="1"/>
<text x="25.60" y="327.03" font-size="7.6" font-weight="bold" text-anchor="end" font-family="'Liberation Serif', 'Times New Roman', serif" fill="#111" stroke="#111" stroke-width="0.22">0.1</text>
<line x1="29.90" y1="274.71" x2="33.10" y2="274.71" stroke="#555" stroke-width="1"/>
<text x="25.60" y="277.31" font-size="7.6" font-weight="bold" text-anchor="end" font-family="'Liberation Serif', 'Times New Roman', serif" fill="#111" stroke="#111" stroke-width="0.22">0.2</text>
<line x1="29.90" y1="225.00" x2="33.10" y2="225.00" stroke="#555" stroke-width="1"/>
<text x="25.60" y="227.60" font-size="7.6" font-weight="bold" text-anchor="end" font-family="'Liberation Serif', 'Times New Roman', serif" fill="#111" stroke="#111" stroke-width="0.22">0.3</text>
<line x1="29.90" y1="349.29" x2="31.50" y2="349.29" stroke="#555" stroke-width="0.9"/>
<line x1="29.90" y1="299.57" x2="31.50" y2="299.57" stroke="#555" stroke-width="0.9"/>
<line x1="29.90" y1="249.86" x2="31.50" y2="249.86" stroke="#555" stroke-width="0.9"/>
<text transform="translate(11.40,312.85) rotate(-90)" font-size="9.0" font-weight="bold" text-anchor="middle" textLength="135" lengthAdjust="spacingAndGlyphs" font-family="'Liberation Serif', 'Times New Roman', serif" fill="#111" stroke="#111" stroke-width="0.15">Enthalpy of formation (eV/atom)</text>
<text transform="translate(137.70,424.30) scale(1.09,1)" font-size="8.8" font-weight="bold" text-anchor="middle" font-family="'Liberation Serif', 'Times New Roman', serif" fill="#111" stroke="#111" stroke-width="0.2">n (<tspan font-style="italic">T</tspan>)</text>
<line x1="96.50" y1="239.40" x2="116.50" y2="239.40" stroke="#262626" stroke-width="1.05"/>
<rect x="104.70" y="237.60" width="3.6" height="3.6" fill="#000000"/>
<text x="119.30" y="242.60" font-size="8.35" font-family="'Liberation Serif', 'Times New Roman', serif" fill="#111" stroke="#111" stroke-width="0.16"><tspan>Lu</tspan><tspan font-size="6.85" dy="2.60">4</tspan><tspan dy="-2.60">H</tspan><tspan font-size="6.85" dy="2.60">11</tspan><tspan dy="-2.60">N</tspan></text>
<line x1="96.50" y1="252.35" x2="116.50" y2="252.35" stroke="#be4050" stroke-width="1.05"/>
<circle cx="106.50" cy="252.35" r="2.25" fill="#c42236"/>
<text x="119.30" y="255.55" font-size="8.35" font-family="'Liberation Serif', 'Times New Roman', serif" fill="#111" stroke="#111" stroke-width="0.16"><tspan>Lu</tspan><tspan font-size="6.85" dy="2.60">4</tspan><tspan dy="-2.60">H</tspan><tspan font-size="6.85" dy="2.60">10</tspan><tspan dy="-2.60">N</tspan><tspan font-size="6.85" dy="2.60">2</tspan><tspan dy="-2.60">&#160;(Lu</tspan><tspan font-size="6.85" dy="2.60">2</tspan><tspan dy="-2.60">H</tspan><tspan font-size="6.85" dy="2.60">5</tspan><tspan dy="-2.60">N)</tspan></text>
<line x1="96.50" y1="265.30" x2="116.50" y2="265.30" stroke="#44518f" stroke-width="1.05"/>
<polygon points="106.50,262.70 109.30,267.25 103.70,267.25" fill="#2e3d92"/>
<text x="119.30" y="268.50" font-size="8.35" font-family="'Liberation Serif', 'Times New Roman', serif" fill="#111" stroke="#111" stroke-width="0.16"><tspan>Lu</tspan><tspan font-size="6.85" dy="2.60">4</tspan><tspan dy="-2.60">H</tspan><tspan font-size="6.85" dy="2.60">9</tspan><tspan dy="-2.60">N</tspan><tspan font-size="6.85" dy="2.60">3</tspan></text>
<line x1="96.50" y1="278.25" x2="116.50" y2="278.25" stroke="#9aba70" stroke-width="1.05"/>
<polygon points="106.50,280.85 109.30,276.30 103.70,276.30" fill="#84a852"/>
<text x="119.30" y="281.45" font-size="8.35" font-family="'Liberation Serif', 'Times New Roman', serif" fill="#111" stroke="#111" stroke-width="0.16"><tspan>Lu</tspan><tspan font-size="6.85" dy="2.60">4</tspan><tspan dy="-2.60">H</tspan><tspan font-size="6.85" dy="2.60">8</tspan><tspan dy="-2.60">N</tspan><tspan font-size="6.85" dy="2.60">4</tspan><tspan dy="-2.60">&#160;(LuH</tspan><tspan font-size="6.85" dy="2.60">2</tspan><tspan dy="-2.60">N)</tspan></text>
<text x="0.50" y="222.50" font-size="11.3" font-weight="bold" font-family="'Liberation Serif', 'Times New Roman', serif" fill="#111" stroke="#111" stroke-width="0.35">(c)</text>
</g>
<g id="pd">
<line x1="303.60" y1="325.91" x2="519.40" y2="325.91" stroke="#a8a8a8" stroke-width="0.9"/>
<polyline points="325.18,313.00 368.34,337.17" fill="none" stroke="#262626" stroke-width="1.1"/>
<polyline points="325.18,321.69 368.34,362.16 411.50,309.44" fill="none" stroke="#be4050" stroke-width="0.95"/>
<polyline points="325.18,346.94 368.34,385.50 411.50,346.94 454.66,243.73" fill="none" stroke="#44518f" stroke-width="0.95"/>
<polyline points="325.18,354.63 368.34,376.90 411.50,322.44 454.66,310.52 497.82,241.50" fill="none" stroke="#9aba70" stroke-width="0.95"/>
<rect x="323.38" y="311.20" width="3.6" height="3.6" fill="#000000"/>
<rect x="366.54" y="335.37" width="3.6" height="3.6" fill="#000000"/>
<circle cx="325.18" cy="321.69" r="2.25" fill="#c42236"/>
<circle cx="368.34" cy="362.16" r="2.25" fill="#c42236"/>
<circle cx="411.50" cy="309.44" r="2.25" fill="#c42236"/>
<polygon points="325.18,344.34 327.98,348.89 322.38,348.89" fill="#2e3d92"/>
<polygon points="368.34,382.90 371.14,387.45 365.54,387.45" fill="#2e3d92"/>
<polygon points="411.50,344.34 414.30,348.89 408.70,348.89" fill="#2e3d92"/>
<polygon points="454.66,241.13 457.46,245.68 451.86,245.68" fill="#2e3d92"/>
<polygon points="325.18,357.23 327.98,352.68 322.38,352.68" fill="#84a852"/>
<polygon points="368.34,379.50 371.14,374.95 365.54,374.95" fill="#84a852"/>
<polygon points="411.50,325.04 414.30,320.49 408.70,320.49" fill="#84a852"/>
<polygon points="454.66,313.12 457.46,308.57 451.86,308.57" fill="#84a852"/>
<polygon points="497.82,244.10 500.62,239.55 495.02,239.55" fill="#84a852"/>
<line x1="302.90" y1="226.60" x2="520.10" y2="226.60" stroke="#3a3a3a" stroke-width="1.4"/>
<line x1="519.40" y1="226.60" x2="519.40" y2="400.40" stroke="#333" stroke-width="1.4"/>
<line x1="302.90" y1="400.40" x2="520.10" y2="400.40" stroke="#3a3a3a" stroke-width="1.4"/>
<line x1="303.60" y1="226.60" x2="303.60" y2="400.40" stroke="#3a3a3a" stroke-width="1.4"/>
<line x1="325.18" y1="400.40" x2="325.18" y2="397.20" stroke="#555" stroke-width="1"/>
<text x="325.18" y="411.20" font-size="7.6" font-weight="bold" text-anchor="middle" font-family="'Liberation Serif', 'Times New Roman', serif" fill="#111" stroke="#111" stroke-width="0.22">0</text>
<line x1="368.34" y1="400.40" x2="368.34" y2="397.20" stroke="#555" stroke-width="1"/>
<text x="368.34" y="411.20" font-size="7.6" font-weight="bold" text-anchor="middle" font-family="'Liberation Serif', 'Times New Roman', serif" fill="#111" stroke="#111" stroke-width="0.22">1</text>
<line x1="411.50" y1="400.40" x2="411.50" y2="397.20" stroke="#555" stroke-width="1"/>
<text x="411.50" y="411.20" font-size="7.6" font-weight="bold" text-anchor="middle" font-family="'Liberation Serif', 'Times New Roman', serif" fill="#111" stroke="#111" stroke-width="0.22">2</text>
<line x1="454.66" y1="400.40" x2="454.66" y2="397.20" stroke="#555" stroke-width="1"/>
<text x="454.66" y="411.20" font-size="7.6" font-weight="bold" text-anchor="middle" font-family="'Liberation Serif', 'Times New Roman', serif" fill="#111" stroke="#111" stroke-width="0.22">3</text>
<line x1="497.82" y1="400.40" x2="497.82" y2="397.20" stroke="#555" stroke-width="1"/>
<text x="497.82" y="411.20" font-size="7.6" font-weight="bold" text-anchor="middle" font-family="'Liberation Serif', 'Times New Roman', serif" fill="#111" stroke="#111" stroke-width="0.22">4</text>
<line x1="303.60" y1="392.12" x2="306.80" y2="392.12" stroke="#555" stroke-width="1"/>
<text x="299.30" y="394.72" font-size="7.6" font-weight="bold" text-anchor="end" font-family="'Liberation Serif', 'Times New Roman', serif" fill="#111" stroke="#111" stroke-width="0.22">-0.08</text>
<line x1="303.60" y1="359.02" x2="306.80" y2="359.02" stroke="#555" stroke-width="1"/>
<text x="299.30" y="361.62" font-size="7.6" font-weight="bold" text-anchor="end" font-family="'Liberation Serif', 'Times New Roman', serif" fill="#111" stroke="#111" stroke-width="0.22">-0.04</text>
<line x1="303.60" y1="325.91" x2="306.80" y2="325.91" stroke="#555" stroke-width="1"/>
<text x="299.30" y="328.51" font-size="7.6" font-weight="bold" text-anchor="end" font-family="'Liberation Serif', 'Times New Roman', serif" fill="#111" stroke="#111" stroke-width="0.22">0.00</text>
<line x1="303.60" y1="292.81" x2="306.80" y2="292.81" stroke="#555" stroke-width="1"/>
<text x="299.30" y="295.41" font-size="7.6" font-weight="bold" text-anchor="end" font-family="'Liberation Serif', 'Times New Roman', serif" fill="#111" stroke="#111" stroke-width="0.22">0.04</text>
<line x1="303.60" y1="259.70" x2="306.80" y2="259.70" stroke="#555" stroke-width="1"/>
<text x="299.30" y="262.30" font-size="7.6" font-weight="bold" text-anchor="end" font-family="'Liberation Serif', 'Times New Roman', serif" fill="#111" stroke="#111" stroke-width="0.22">0.08</text>
<line x1="303.60" y1="226.60" x2="306.80" y2="226.60" stroke="#555" stroke-width="1"/>
<text x="299.30" y="229.20" font-size="7.6" font-weight="bold" text-anchor="end" font-family="'Liberation Serif', 'Times New Roman', serif" fill="#111" stroke="#111" stroke-width="0.22">0.12</text>
<line x1="303.60" y1="375.57" x2="305.20" y2="375.57" stroke="#555" stroke-width="0.9"/>
<line x1="303.60" y1="342.47" x2="305.20" y2="342.47" stroke="#555" stroke-width="0.9"/>
<line x1="303.60" y1="309.36" x2="305.20" y2="309.36" stroke="#555" stroke-width="0.9"/>
<line x1="303.60" y1="276.26" x2="305.20" y2="276.26" stroke="#555" stroke-width="0.9"/>
<line x1="303.60" y1="243.15" x2="305.20" y2="243.15" stroke="#555" stroke-width="0.9"/>
<text transform="translate(278.40,314.70) rotate(-90)" font-size="9.0" font-weight="bold" text-anchor="middle" textLength="135" lengthAdjust="spacingAndGlyphs" font-family="'Liberation Serif', 'Times New Roman', serif" fill="#111" stroke="#111" stroke-width="0.15">Enthalpy of formation (eV/atom)</text>
<text transform="translate(411.70,425.60) scale(1.09,1)" font-size="8.8" font-weight="bold" text-anchor="middle" font-family="'Liberation Serif', 'Times New Roman', serif" fill="#111" stroke="#111" stroke-width="0.2">n (<tspan font-style="italic">T</tspan>)</text>
<line x1="328.20" y1="245.80" x2="348.60" y2="245.80" stroke="#262626" stroke-width="1.05"/>
<rect x="336.60" y="244.00" width="3.6" height="3.6" fill="#000000"/>
<text x="350.60" y="249.00" font-size="8.35" font-family="'Liberation Serif', 'Times New Roman', serif" fill="#111" stroke="#111" stroke-width="0.16"><tspan>Lu</tspan><tspan font-size="6.85" dy="2.60">4</tspan><tspan dy="-2.60">H</tspan><tspan font-size="6.85" dy="2.60">11</tspan><tspan dy="-2.60">N</tspan></text>
<line x1="328.20" y1="258.45" x2="348.60" y2="258.45" stroke="#be4050" stroke-width="1.05"/>
<circle cx="338.40" cy="258.45" r="2.25" fill="#c42236"/>
<text x="350.60" y="261.65" font-size="8.35" font-family="'Liberation Serif', 'Times New Roman', serif" fill="#111" stroke="#111" stroke-width="0.16"><tspan>Lu</tspan><tspan font-size="6.85" dy="2.60">4</tspan><tspan dy="-2.60">H</tspan><tspan font-size="6.85" dy="2.60">10</tspan><tspan dy="-2.60">N</tspan><tspan font-size="6.85" dy="2.60">2</tspan><tspan dy="-2.60">&#160;(Lu</tspan><tspan font-size="6.85" dy="2.60">2</tspan><tspan dy="-2.60">H</tspan><tspan font-size="6.85" dy="2.60">5</tspan><tspan dy="-2.60">N)</tspan></text>
<line x1="328.20" y1="271.10" x2="348.60" y2="271.10" stroke="#44518f" stroke-width="1.05"/>
<polygon points="338.40,268.50 341.20,273.05 335.60,273.05" fill="#2e3d92"/>
<text x="350.60" y="274.30" font-size="8.35" font-family="'Liberation Serif', 'Times New Roman', serif" fill="#111" stroke="#111" stroke-width="0.16"><tspan>Lu</tspan><tspan font-size="6.85" dy="2.60">4</tspan><tspan dy="-2.60">H</tspan><tspan font-size="6.85" dy="2.60">9</tspan><tspan dy="-2.60">N</tspan><tspan font-size="6.85" dy="2.60">3</tspan></text>
<line x1="328.20" y1="283.75" x2="348.60" y2="283.75" stroke="#9aba70" stroke-width="1.05"/>
<polygon points="338.40,286.35 341.20,281.80 335.60,281.80" fill="#84a852"/>
<text x="350.60" y="286.95" font-size="8.35" font-family="'Liberation Serif', 'Times New Roman', serif" fill="#111" stroke="#111" stroke-width="0.16"><tspan>Lu</tspan><tspan font-size="6.85" dy="2.60">4</tspan><tspan dy="-2.60">H</tspan><tspan font-size="6.85" dy="2.60">8</tspan><tspan dy="-2.60">N</tspan><tspan font-size="6.85" dy="2.60">4</tspan><tspan dy="-2.60">&#160;(LuH</tspan><tspan font-size="6.85" dy="2.60">2</tspan><tspan dy="-2.60">N)</tspan></text>
<text x="269.40" y="222.70" font-size="11.3" font-weight="bold" font-family="'Liberation Serif', 'Times New Roman', serif" fill="#111" stroke="#111" stroke-width="0.35">(d)</text>
</g>
</svg>
</body></html>
